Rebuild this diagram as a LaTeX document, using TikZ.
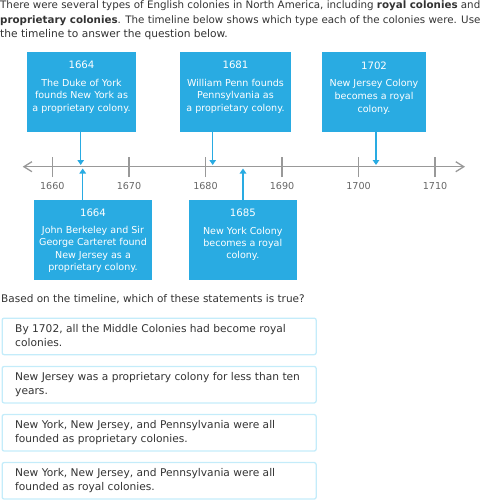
\documentclass[tikz,border=0pt]{standalone}
\usepackage{fontspec}
\setmainfont{DejaVu Sans}
\usetikzlibrary{arrows.meta}
\definecolor{boxblue}{HTML}{29ABE2}
\definecolor{maintext}{HTML}{333333}
\definecolor{linegrey}{HTML}{999999}
\definecolor{ticktext}{HTML}{666666}
\definecolor{optborder}{HTML}{C4ECFA}
\begin{document}
\begin{tikzpicture}[x=1pt,y=-1pt,
  every node/.style={inner sep=0pt},
  para/.style={anchor=base west,text=maintext,font=\fontsize{10.65}{12}\selectfont},
  intro/.style={anchor=base west,text=maintext,font=\fontsize{10.3}{12}\selectfont},
  evbox/.style={fill=boxblue,draw=none,minimum width=#1,minimum height=80pt,anchor=north},
  yeartxt/.style={anchor=base,text=white,font=\fontsize{10.2}{12}\selectfont},
  boxtxt/.style={anchor=base,text=white,font=\fontsize{9.55}{11}\selectfont},
  ticklab/.style={anchor=base,text=ticktext,font=\fontsize{9.6}{11}\selectfont},
  tickline/.style={draw=linegrey,line width=1.3pt},
  bluearrow/.style={draw=boxblue,line width=1.4pt,-{Triangle[length=5pt,width=6.5pt]}},
  optbox/.style={draw=optborder,line width=1.3pt,rounded corners=2pt,minimum width=314pt,minimum height=36.5pt,anchor=north west},
]
\useasboundingbox (0,0) rectangle (494,500);

% intro paragraph
\node[intro] (p1) at (0,8.5) {There were several types of English colonies in North America, including \textbf{royal colonies} and};
\node[intro] (p2) at (0,23.2) {\textbf{proprietary colonies}. The timeline below shows which type each of the colonies were. Use};
\node[para] (p3) at (0,37.9) {the timeline to answer the question below.};

% timeline
\coordinate (tl) at (22.7,166.7);
\coordinate (tr) at (465,166.7);
\draw[draw=linegrey,line width=1.3pt,{Straight Barb[length=8pt,width=10pt]}-{Straight Barb[length=8pt,width=10pt]}] (tl) -- (tr);
\foreach \yr/\xx in {1660/52.3,1670/129,1680/205.5,1690/282,1700/358.5,1710/435}{
  \coordinate (tk\yr) at (\xx,166.7);
  \draw[tickline] ([yshift=-10.5pt]tk\yr) -- ([yshift=10pt]tk\yr);
  \node[ticklab] (lab\yr) at (\xx,189) {\yr};
}

% top boxes
\node[evbox=109pt] (b1) at (81.5,52) {};
\node[yeartxt] (b1y) at (81.5,68.5) {1664};
\node[boxtxt] (b1a) at (81.5,86.5) {The Duke of York};
\node[boxtxt] (b1b) at (81.5,98.8) {founds New York as};
\node[boxtxt] (b1c) at (81.5,111.1) {a proprietary colony.};

\node[evbox=111pt] (b2) at (235.5,52) {};
\node[yeartxt] (b2y) at (235.5,68.5) {1681};
\node[boxtxt] (b2a) at (235.5,86.5) {William Penn founds};
\node[boxtxt] (b2b) at (235.5,98.8) {Pennsylvania as};
\node[boxtxt] (b2c) at (235.5,111.1) {a proprietary colony.};

\node[evbox=104pt] (b3) at (374,52) {};
\node[yeartxt] (b3y) at (374,70) {1702};
\node[boxtxt] (b3a) at (374,87) {New Jersey Colony};
\node[boxtxt] (b3b) at (374,99.8) {becomes a royal};
\node[boxtxt] (b3c) at (374,112.5) {colony.};

% bottom boxes
\node[evbox=118.6pt] (b4) at (93,200) {};
\node[yeartxt] (b4y) at (93,216.5) {1664};
\node[boxtxt] (b4a) at (93,233.3) {John Berkeley and Sir};
\node[boxtxt] (b4b) at (93,245.6) {George Carteret found};
\node[boxtxt] (b4c) at (93,258) {New Jersey as a};
\node[boxtxt] (b4d) at (93,270.4) {proprietary colony.};

\node[evbox=108.3pt] (b5) at (242.8,200) {};
\node[yeartxt] (b5y) at (242.8,216.5) {1685};
\node[boxtxt] (b5a) at (242.8,234) {New York Colony};
\node[boxtxt] (b5b) at (242.8,246.4) {becomes a royal};
\node[boxtxt] (b5c) at (242.8,258.8) {colony.};

% arrows
\coordinate (a1) at (80.7,165);
\coordinate (a2) at (212.7,165);
\coordinate (a3) at (376,165);
\coordinate (a4) at (82.7,168.5);
\coordinate (a5) at (243,168.5);
\draw[bluearrow] (b1.south -| a1) -- (a1);
\draw[bluearrow] (b2.south -| a2) -- (a2);
\draw[bluearrow] (b3.south -| a3) -- (a3);
\draw[bluearrow] (b4.north -| a4) -- (a4);
\draw[bluearrow] (b5.north -| a5) -- (a5);

% question
\node[para,font=\fontsize{10.5}{12}\selectfont] (q) at (1,302.6) {Based on the timeline, which of these statements is true?};

% options
\node[optbox] (o1) at (1.5,317.5) {};
\node[para] (o1a) at (15,332) {By 1702, all the Middle Colonies had become royal};
\node[para] (o1b) at (15,346.5) {colonies.};
\node[optbox] (o2) at (1.5,365.8) {};
\node[para] (o2a) at (15,380.3) {New Jersey was a proprietary colony for less than ten};
\node[para] (o2b) at (15,394.8) {years.};
\node[optbox] (o3) at (1.5,413.9) {};
\node[para] (o3a) at (15,428.4) {New York, New Jersey, and Pennsylvania were all};
\node[para] (o3b) at (15,442.9) {founded as proprietary colonies.};
\node[optbox] (o4) at (1.5,461.9) {};
\node[para] (o4a) at (15,476.4) {New York, New Jersey, and Pennsylvania were all};
\node[para] (o4b) at (15,490.9) {founded as royal colonies.};
\end{tikzpicture}
\end{document}
